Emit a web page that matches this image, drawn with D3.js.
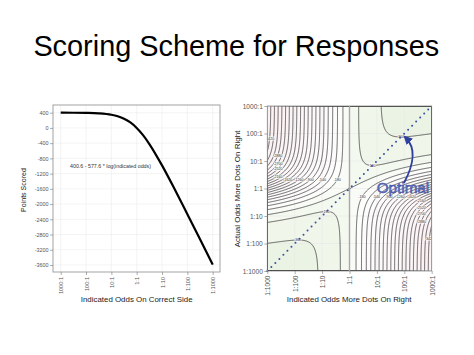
<!DOCTYPE html>
<html><head><meta charset="utf-8">
<script src="https://cdn.jsdelivr.net/npm/d3@7"></script>
<style>body{margin:0;background:#fff} svg{display:block} text{font-family:"Liberation Sans",Arial,Helvetica,sans-serif}</style>
</head><body><svg id="c" width="474" height="355"></svg>
<script>
// ---------- data ----------
const titleText = "Scoring Scheme for Responses";

// left panel
const leftTickOdds = [1000, 100, 10, 1, 0.1, 0.01, 0.001];
const leftTickLabels = ["1000:1", "100:1", "10:1", "1:1", "1:10", "1:100", "1:1000"];
const leftYTicks = [400, 0, -400, -800, -1200, -1600, -2000, -2400, -2800, -3200, -3600];
const curveOdds  = [1000, 316, 100, 31.6, 10, 5.62, 3.16, 1.78, 1, 0.562, 0.316, 0.1, 0.0316, 0.01, 0.00316, 0.001];
const curveScore = [400, 399, 395, 383, 346, 306, 242, 143, 0, -190, -423, -984, -1612, -2265, -2926, -3590];
const formulaText = "400.6 - 577.6 * log(indicated odds)";
const leftXTitle = "Indicated Odds On Correct Side";
const leftYTitle = "Points Scored";

// right panel
const rightTickOdds = [0.001, 0.01, 0.1, 1, 10, 100, 1000];
const rightTickLabels = ["1:1000", "1:100", "1:10", "1:1", "10:1", "100:1", "1000:1"];
const rightXTitle = "Indicated Odds More Dots On Right";
const rightYTitle = "Actual Odds More Dots On Right";
const scoreIntercept = 400.6;   // from the chart's scoring rule
const scoreSlope = 577.6;
const contourLevels = [-3600,-3420,-3240,-3060,-2880,-2700,-2520,-2340,-2160,-1980,-1800,
  -1620,-1440,-1260,-1080,-900,-720,-540,-360,-180,0,180,360];
const optimalText = "Optimal";

// ---------- drawing ----------
const svg = d3.select("#c");
const defs = svg.append("defs");
const FONT = '"Liberation Sans",Arial,Helvetica,sans-serif';
function fit(t, w) {
  const cur = t.node().getComputedTextLength();
  const fs = parseFloat(t.attr("font-size"));
  t.attr("font-size", fs * w / cur);
}

// title
const tt = svg.append("text").attr("x", 236.3).attr("y", 56).attr("text-anchor", "middle")
  .attr("font-size", 29).attr("fill", "#000").text(titleText);
fit(tt, 406);

// ===== left panel =====
const LB = {x0: 53, x1: 220, y0: 105, y1: 272};
const xL = d3.scaleLog().domain([1000, 0.001]).range([60.7, 212.7]);
const yL = d3.scaleLinear().domain([400, -3600]).range([112.7, 265]);
const gL = svg.append("g");
gL.selectAll(".gx").data(leftTickOdds).join("line")
  .attr("x1", d => xL(d)).attr("x2", d => xL(d)).attr("y1", LB.y0).attr("y2", LB.y1)
  .attr("stroke", "#ececec").attr("stroke-width", 0.6);
gL.selectAll(".gy").data(leftYTicks).join("line")
  .attr("y1", d => yL(d)).attr("y2", d => yL(d)).attr("x1", LB.x0).attr("x2", LB.x1)
  .attr("stroke", "#ececec").attr("stroke-width", 0.6);

const curveData = curveOdds.map((o, i) => ({o, s: curveScore[i]}));
gL.append("path").datum(curveData)
  .attr("d", d3.line().x(d => xL(d.o)).y(d => yL(d.s)).curve(d3.curveMonotoneX))
  .attr("fill", "none").attr("stroke", "#000").attr("stroke-width", 2.2);

gL.append("rect").attr("x", LB.x0).attr("y", LB.y0).attr("width", LB.x1 - LB.x0).attr("height", LB.y1 - LB.y0)
  .attr("fill", "none").attr("stroke", "#8c8c8c").attr("stroke-width", 0.8);

gL.append("text").attr("x", 70).attr("y", 168).attr("font-size", 5.3).attr("fill", "#333").text(formulaText);

const axLY = gL.append("g").attr("transform", `translate(${LB.x0},0)`)
  .call(d3.axisLeft(yL).tickValues(leftYTicks).tickFormat(d => String(d)).tickSize(3).tickPadding(1.5));
axLY.select(".domain").remove();
axLY.selectAll("line").attr("stroke", "#777").attr("stroke-width", 0.6);
axLY.selectAll("text").attr("font-size", 5.4).attr("fill", "#555").attr("font-family", FONT);

const axLX = gL.append("g").attr("transform", `translate(0,${LB.y1})`)
  .call(d3.axisBottom(xL).tickValues(leftTickOdds).tickFormat((d, i) => leftTickLabels[i]).tickSize(3));
axLX.select(".domain").remove();
axLX.selectAll("line").attr("stroke", "#777").attr("stroke-width", 0.6);
axLX.selectAll("text").attr("font-size", 5.6).attr("fill", "#555").attr("font-family", FONT)
  .attr("transform", "rotate(-90)").attr("x", -5).attr("y", 0).attr("dy", "0.35em").attr("text-anchor", "end");

const lxt = gL.append("text").attr("x", 136.7).attr("y", 302).attr("text-anchor", "middle")
  .attr("font-size", 8).attr("fill", "#222").text(leftXTitle);
fit(lxt, 112);
const lyt = gL.append("text").attr("transform", "translate(26,190) rotate(-90)").attr("text-anchor", "middle")
  .attr("font-size", 8).attr("fill", "#222").text(leftYTitle);
fit(lyt, 44);

// ===== right panel =====
const RB = {x0: 267.3, x1: 431.7, y0: 106, y1: 271};
const xR = d3.scaleLog().domain([0.001, 1000]).range([RB.x0, RB.x1]);
const yR = d3.scaleLog().domain([0.001, 1000]).range([RB.y1, RB.y0]);
const gR = svg.append("g");
defs.append("clipPath").attr("id", "clipR").append("rect")
  .attr("x", RB.x0).attr("y", RB.y0).attr("width", RB.x1 - RB.x0).attr("height", RB.y1 - RB.y0);

const N = 220;
const vals = new Float64Array(N * N);
for (let j = 0; j < N; j++) {
  const ly = -3 + j * 6 / (N - 1), p = 1 / (1 + Math.pow(10, -ly));
  for (let i = 0; i < N; i++) {
    const lx = -3 + i * 6 / (N - 1), q = 1 / (1 + Math.pow(10, -lx));
    vals[j * N + i] = scoreIntercept + scoreSlope * (p * Math.log(q) + (1 - p) * Math.log(1 - q));
  }
}
const g2lx = c => -3 + (c - 0.5) * 6 / (N - 1);
const proj = d3.geoTransform({point(x, y) { this.stream.point(xR(Math.pow(10, g2lx(x))), yR(Math.pow(10, g2lx(y)))); }});
const gpath = d3.geoPath(proj);
const contours = d3.contours().size([N, N]).thresholds(contourLevels)(vals);

const fillC = d3.scaleLinear().domain([-3600, -1800, -300, 0, 400])
  .range(["#fbf1f3", "#fdf8f9", "#fdfdfc", "#f4f9f0", "#eaf3e3"]);
const cg = gR.append("g").attr("clip-path", "url(#clipR)");
cg.append("rect").attr("x", RB.x0).attr("y", RB.y0).attr("width", RB.x1 - RB.x0).attr("height", RB.y1 - RB.y0)
  .attr("fill", fillC(-3600));
cg.selectAll(".cf").data(contours).join("path").attr("d", gpath).attr("fill", d => fillC(d.value)).attr("stroke", "none");
cg.selectAll(".rgx").data(rightTickOdds).join("line")
  .attr("x1", d => xR(d)).attr("x2", d => xR(d)).attr("y1", RB.y0).attr("y2", RB.y1)
  .attr("stroke", "#e6e6e6").attr("stroke-width", 0.5);
cg.selectAll(".rgy").data(rightTickOdds).join("line")
  .attr("y1", d => yR(d)).attr("y2", d => yR(d)).attr("x1", RB.x0).attr("x2", RB.x1)
  .attr("stroke", "#e6e6e6").attr("stroke-width", 0.5);
cg.selectAll(".cl").data(contours).join("path").attr("d", gpath).attr("fill", "none")
  .attr("stroke", "#1e1e1e").attr("stroke-width", 0.65);
cg.append("line").attr("x1", xR(1)).attr("x2", xR(1)).attr("y1", RB.y0).attr("y2", RB.y1)
  .attr("stroke", "#a8a8a8").attr("stroke-width", 1.4);

// contour labels near the flat ends of each line (greedy, non-overlapping)
const cand = [];
contours.forEach(c => {
  const pts = [];
  c.coordinates.forEach(poly => poly.forEach(ring => ring.forEach(([x, y]) => {
    const lx = g2lx(x), ly = g2lx(y);
    if (lx > -2.95 && lx < 2.95 && ly > -2.95 && ly < 2.95) pts.push([lx, ly]);
  })));
  const pick = (filter, score) => {
    let best = null, bs = Infinity;
    pts.forEach(pt => { if (filter(pt)) { const s = score(pt); if (s < bs) { bs = s; best = pt; } } });
    return best;
  };
  if (c.value < 0) {
    const a = pick(p => p[0] < -0.3 && p[1] > 0.3, p => 10 * Math.abs(p[0] + 2.62) + p[1]);
    const b = pick(p => p[0] > 0.3 && p[1] < -0.3, p => 10 * Math.abs(p[0] - 2.62) - p[1]);
    if (a) cand.push({pt: a, v: c.value});
    if (b) cand.push({pt: b, v: c.value});
  } else if (c.value > 0) {
    const a = pick(p => p[0] < -0.2 && p[1] < -0.2, p => Math.abs(p[0] - p[1]));
    const b = pick(p => p[0] > 0.2 && p[1] > 0.2, p => Math.abs(p[0] - p[1]));
    if (a) cand.push({pt: a, v: c.value});
    if (b) cand.push({pt: b, v: c.value});
  }
});
const labels = [];
cand.forEach(d => {
  d.px = xR(Math.pow(10, d.pt[0])); d.py = yR(Math.pow(10, d.pt[1]));
  if (labels.every(o => Math.abs(o.px - d.px) > 9 || Math.abs(o.py - d.py) > 4.5)) labels.push(d);
});
cg.selectAll(".lab").data(labels).join("text")
  .attr("x", d => d.px).attr("y", d => d.py)
  .attr("dy", "0.35em").attr("text-anchor", "middle").attr("font-size", 3.6).attr("fill", "#222")
  .attr("stroke", "#fff").attr("stroke-width", 1.1).attr("paint-order", "stroke").text(d => d.v);

// diagonal optimal line
gR.append("line").attr("x1", xR(0.001)).attr("y1", yR(0.001)).attr("x2", xR(1000)).attr("y2", yR(1000))
  .attr("stroke", "#3a4ea6").attr("stroke-width", 2).attr("stroke-dasharray", "0 5.7").attr("stroke-linecap", "round");

gR.append("rect").attr("x", RB.x0).attr("y", RB.y0).attr("width", RB.x1 - RB.x0).attr("height", RB.y1 - RB.y0)
  .attr("fill", "none").attr("stroke", "#8c8c8c").attr("stroke-width", 0.8);

const axRY = gR.append("g").attr("transform", `translate(${RB.x0},0)`)
  .call(d3.axisLeft(yR).tickValues(rightTickOdds).tickFormat((d, i) => rightTickLabels[i]).tickSize(3).tickPadding(1.5));
axRY.select(".domain").remove();
axRY.selectAll("line").attr("stroke", "#777").attr("stroke-width", 0.6);
axRY.selectAll("text").attr("font-size", 6.6).attr("fill", "#555").attr("font-family", FONT);

const axRX = gR.append("g").attr("transform", `translate(0,${RB.y1})`)
  .call(d3.axisBottom(xR).tickValues(rightTickOdds).tickFormat((d, i) => rightTickLabels[i]).tickSize(3));
axRX.select(".domain").remove();
axRX.selectAll("line").attr("stroke", "#777").attr("stroke-width", 0.6);
axRX.selectAll("text").attr("font-size", 6.6).attr("fill", "#555").attr("font-family", FONT)
  .attr("transform", "rotate(-90)").attr("x", -4.5).attr("y", 0).attr("dy", "0.35em").attr("text-anchor", "end");

const rxt = gR.append("text").attr("x", 349.2).attr("y", 302).attr("text-anchor", "middle")
  .attr("font-size", 8).attr("fill", "#222").text(rightXTitle);
fit(rxt, 125);
const ryt = gR.append("text").attr("transform", "translate(240,189) rotate(-90)").attr("text-anchor", "middle")
  .attr("font-size", 8).attr("fill", "#222").text(rightYTitle);
fit(ryt, 117);

// Optimal annotation
const ot = gR.append("text").attr("x", 376.7).attr("y", 193).attr("font-size", 15)
  .attr("fill", "#6676c4").attr("stroke", "#33449f").attr("stroke-width", 0.45).text(optimalText);
fit(ot, 52.6);
defs.append("marker").attr("id", "ah").attr("viewBox", "0 0 10 10").attr("refX", 6).attr("refY", 5)
  .attr("markerWidth", 5).attr("markerHeight", 5).attr("orient", "auto")
  .append("path").attr("d", "M0,0 L10,5 L0,10 z").attr("fill", "#2f3fa0");
gR.append("path").attr("d", "M404,183 C413,166 417,149 406,138")
  .attr("fill", "none").attr("stroke", "#2f3fa0").attr("stroke-width", 1.8).attr("marker-end", "url(#ah)");
</script></body></html>
